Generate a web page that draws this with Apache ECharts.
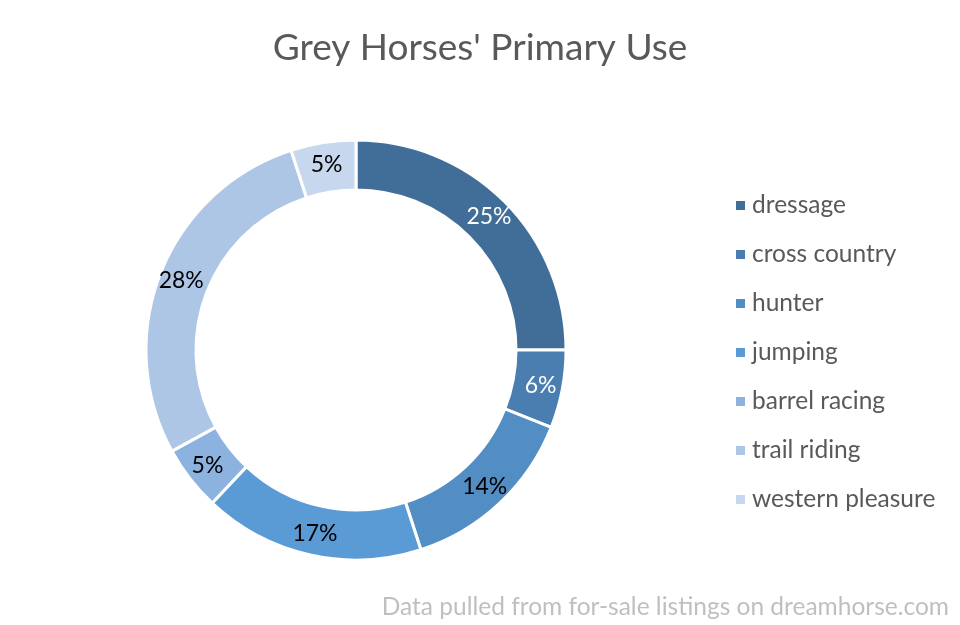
<!DOCTYPE html>
<html>
<head>
    <meta charset="utf-8">
    <script src="https://cdn.jsdelivr.net/npm/echarts@6/dist/echarts.min.js"></script>
    <style type="text/css">
        html, body { width: 100%; height: 100%; margin: 0; background: #fff; }
        #chart { width: 960px; height: 625px; }
    </style>
</head>
<body>
<div id="chart"></div>
<script type="text/javascript">
    // 数据
    var categories = ['dressage', 'cross country', 'hunter', 'jumping', 'barrel racing', 'trail riding', 'western pleasure'];
    var shares = [25, 6, 14, 17, 5, 28, 5];
    var sliceColors = ['#416E98', '#4A7EB1', '#528DC3', '#5B9BD5', '#8CB2DF', '#ADC6E6', '#C7D8EE'];
    var labelColors = ['#ffffff', '#ffffff', '#000000', '#000000', '#000000', '#000000', '#000000'];

    var font = 'Lato, "Open Sans", sans-serif';

    var pieData = categories.map(function (name, i) {
        return {
            name: name,
            value: shares[i],
            itemStyle: { color: sliceColors[i] },
            label: { color: labelColors[i] }
        };
    });

    var option = {
        backgroundColor: '#ffffff',
        animation: false,
        title: [
            {
                text: "Grey Horses' Primary Use",
                left: 'center',
                top: 25,
                textStyle: { fontFamily: font, fontSize: 37, fontWeight: 'normal', color: '#595959' }
            },
            {
                text: 'Data pulled from for-sale listings on dreamhorse.com',
                right: 6,
                top: 590,
                textStyle: { fontFamily: font, fontSize: 24.5, fontWeight: 'normal', color: '#BFBFBF' }
            }
        ],
        legend: {
            orient: 'vertical',
            left: 729,
            top: 188,
            itemWidth: 11,
            itemHeight: 11,
            itemGap: 24,
            icon: 'rect',
            data: categories,
            textStyle: { fontFamily: font, fontSize: 24.5, color: '#595959', padding: [0, 0, 0, 1] }
        },
        series: [
            {
                type: 'pie',
                center: [356, 350],
                radius: [160, 210],
                startAngle: 90,
                clockwise: true,
                avoidLabelOverlap: false,
                itemStyle: { borderColor: '#ffffff', borderWidth: 3 },
                label: {
                    show: true,
                    position: 'inside',
                    formatter: '{c}%',
                    fontFamily: font,
                    fontSize: 23
                },
                labelLine: { show: false },
                emphasis: { disabled: true },
                data: pieData
            }
        ]
    };

    try {
        var myChart = echarts.init(document.getElementById('chart'));
        myChart.setOption(option);
    } catch (e) {
        console.log('chart error: ' + e);
    }
</script>
</body>
</html>
